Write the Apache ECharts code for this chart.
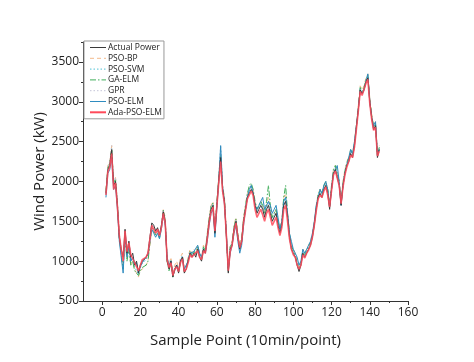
<!DOCTYPE html>
<html>
<head>
<meta charset="utf-8">
<script src="https://cdn.jsdelivr.net/npm/echarts@6/dist/echarts.min.js"></script>
<style>html,body{margin:0;padding:0;background:#fff}#c{width:474px;height:362px}</style>
</head>
<body>
<div id="c"></div>
<script>
var startPoint = 2;
var xTickLabels = [0, 20, 40, 60, 80, 100, 120, 140, 160];
var xMinorTicks = [10, 30, 50, 70, 90, 110, 130, 150];
var yTickLabels = [500, 1000, 1500, 2000, 2500, 3000, 3500];
var yMinorTicks = [750, 1250, 1750, 2250, 2750, 3250, 3750];
var seriesNames = ['Actual Power', 'PSO-BP', 'PSO-SVM', 'GA-ELM', 'GPR', 'PSO-ELM', 'Ada-PSO-ELM'];

var actualPower = [
1850,2150,2200,2400,1950,2000,1700,1300,1150,1050,
1400,1100,1250,1050,1100,950,1000,850,950,1000,
1000,1050,1100,1300,1480,1450,1380,1420,1330,1450,
1620,1500,1000,900,1000,800,900,950,850,1000,
1050,850,900,1000,1100,1050,1100,1050,1150,1050,
1000,1150,1100,1300,1500,1650,1700,1350,1700,2000,
2300,1900,1750,1300,850,1150,1200,1400,1500,1300,
1150,1250,1500,1650,1800,1850,1900,1850,1700,1600,
1650,1700,1650,1550,1650,1700,1600,1500,1550,1600,
1450,1350,1450,1700,1750,1550,1300,1150,1100,1050,
950,870,950,1100,1050,1100,1150,1200,1300,1450,
1650,1800,1850,1800,1900,1950,1850,1650,1900,2100,
2150,2150,1950,1700,1950,2100,2200,2250,2350,2300,
2450,2450,2900,3150,3100,3150,3250,3300,3000,2800,
2650,2700,2300,2400];

var psoBP = [
1900,2200,2250,2450,2000,2050,1750,1350,1100,950,
1300,1050,1150,950,1000,900,880,800,880,900,
920,950,1000,1200,1400,1400,1350,1380,1300,1400,
1650,1550,1050,950,1050,850,950,1000,900,1050,
1100,900,950,1050,1150,1100,1150,1100,1200,1100,
1050,1200,1150,1350,1550,1700,1750,1400,1750,2050,
2350,1950,1800,1350,900,1200,1250,1450,1550,1350,
1200,1300,1550,1700,1850,1900,1950,1900,1750,1650,
1700,1750,1700,1600,1700,1800,1650,1550,1600,1650,
1500,1400,1500,1800,1850,1600,1350,1200,1150,1100,
1000,920,1000,1150,1100,1150,1200,1250,1350,1500,
1700,1850,1900,1850,1950,2000,1900,1700,1950,2150,
2200,2200,2000,1750,2000,2150,2250,2300,2400,2350,
2500,2500,2950,3200,3150,3200,3300,3350,3050,2850,
2700,2750,2350,2450];

var psoSVM = [
1850,2150,2200,2400,1950,2000,1700,1300,1100,900,
1350,1100,1200,1000,1050,930,950,830,920,970,
980,1020,1080,1280,1450,1420,1350,1400,1300,1430,
1620,1500,1030,920,1020,820,920,960,870,1020,
1070,880,930,1020,1120,1080,1130,1080,1180,1080,
1030,1170,1120,1320,1520,1680,1720,1380,1720,2050,
2400,1920,1770,1330,870,1170,1220,1420,1520,1320,
1170,1270,1520,1680,1820,1880,1950,1870,1720,1630,
1680,1730,1720,1600,1680,1750,1650,1530,1580,1630,
1480,1380,1480,1750,1800,1580,1330,1180,1120,1080,
980,900,980,1120,1080,1120,1170,1220,1330,1480,
1680,1830,1880,1830,1930,1980,1880,1680,1920,2120,
2180,2180,1980,1730,1980,2130,2230,2280,2380,2330,
2480,2480,2920,3170,3120,3170,3270,3330,3020,2820,
2680,2720,2330,2420];

var gaELM = [
1870,2170,2230,2420,1980,2030,1720,1280,1100,900,
1300,1000,1150,950,1000,880,900,820,880,920,
900,950,1000,1230,1420,1400,1330,1370,1290,1420,
1640,1520,1000,880,980,800,900,940,860,1000,
1050,870,920,1020,1120,1070,1130,1080,1180,1080,
1030,1180,1130,1330,1530,1690,1730,1370,1730,2030,
2330,1930,1780,1330,870,1180,1230,1430,1530,1330,
1180,1280,1530,1700,1850,1950,1980,1900,1750,1650,
1700,1750,1700,1600,1750,1950,1700,1550,1600,1650,
1500,1400,1500,1800,1950,1600,1350,1200,1130,1080,
980,900,980,1130,1080,1130,1180,1230,1330,1480,
1680,1830,1900,1850,1950,2000,1900,1700,1950,2150,
2200,2200,2000,1730,1980,2130,2230,2300,2400,2350,
2480,2480,2920,3180,3130,3180,3280,3330,3030,2830,
2690,2730,2340,2430];

var gpr = [
1880,2180,2250,2450,2000,2050,1750,1330,1150,1000,
1400,1100,1250,1050,1080,950,980,870,950,1000,
1000,1050,1100,1300,1470,1450,1370,1410,1320,1450,
1630,1510,1020,920,1010,820,910,960,870,1010,
1060,870,920,1010,1110,1060,1110,1070,1160,1060,
1020,1160,1110,1310,1510,1660,1710,1360,1710,2050,
2450,1950,1760,1320,870,1160,1210,1410,1510,1310,
1160,1260,1510,1660,1810,1870,1930,1860,1710,1610,
1660,1710,1670,1570,1660,1720,1620,1510,1560,1610,
1460,1360,1460,1720,1770,1560,1310,1160,1110,1060,
960,880,960,1110,1060,1110,1160,1210,1310,1460,
1660,1810,1860,1810,1910,1960,1860,1660,1910,2110,
2160,2160,1960,1710,1960,2110,2210,2260,2360,2310,
2460,2460,2910,3160,3110,3160,3260,3320,3010,2810,
2660,2710,2310,2410];

var psoELM = [
1800,2100,2150,2300,1900,1950,1650,1250,1050,850,
1350,1050,1200,1000,1050,950,980,850,930,980,
1000,1050,1080,1250,1400,1350,1300,1350,1280,1400,
1580,1450,1050,950,1000,830,880,950,880,1000,
1050,900,920,1000,1100,1080,1120,1100,1200,1100,
1050,1150,1100,1250,1450,1600,1650,1300,1650,2000,
2450,1950,1700,1350,900,1100,1200,1350,1450,1250,
1100,1200,1450,1650,1800,1900,1950,1850,1700,1650,
1700,1750,1800,1650,1700,1750,1700,1600,1650,1700,
1550,1400,1500,1750,1800,1600,1350,1250,1150,1150,
1050,950,1000,1150,1100,1150,1200,1250,1350,1500,
1700,1800,1900,1850,1950,2000,1900,1700,1900,2100,
2150,2200,2000,1700,1950,2100,2200,2300,2400,2350,
2500,2500,2900,3150,3100,3150,3250,3350,3000,2800,
2700,2750,2350,2400];

var adaPsoELM = [
1830,2120,2180,2350,1900,1980,1680,1320,1150,1000,
1380,1120,1230,1080,1100,980,1000,880,950,1020,
1000,1050,1100,1280,1450,1430,1350,1400,1320,1420,
1600,1480,1020,920,980,820,900,930,870,980,
1030,870,900,980,1080,1050,1080,1060,1130,1050,
1020,1130,1100,1280,1480,1620,1680,1380,1680,1980,
2250,1880,1720,1320,880,1120,1200,1380,1480,1300,
1170,1250,1480,1630,1780,1830,1880,1820,1650,1550,
1600,1650,1580,1500,1600,1650,1550,1450,1500,1550,
1420,1320,1420,1650,1700,1500,1280,1150,1080,1050,
950,900,950,1080,1040,1100,1140,1200,1300,1450,
1630,1780,1830,1800,1880,1930,1830,1680,1880,2080,
2130,2130,1950,1720,1930,2080,2180,2250,2330,2300,
2430,2450,2880,3130,3080,3100,3230,3280,2980,2780,
2640,2680,2320,2380];

function pairs(arr) {
  var out = [];
  for (var i = 0; i < arr.length; i++) out.push([startPoint + i, arr[i]]);
  return out;
}

var styles = [
  {color: '#3a3a3a', width: 1, type: 'solid'},
  {color: '#f3b98a', width: 1, type: [4, 3]},
  {color: '#4fc1d6', width: 1, type: [1.5, 2]},
  {color: '#3fae5a', width: 1, type: [6, 2, 1.5, 2]},
  {color: '#c4c4d8', width: 1, type: [1.5, 2]},
  {color: '#2f8cc0', width: 1, type: 'solid'},
  {color: '#ff4a5a', width: 1.6, type: 'solid'}
];
var dataSets = [actualPower, psoBP, psoSVM, gaELM, gpr, psoELM, adaPsoELM];
var order = [1, 2, 3, 4, 5, 0, 6];

var series = [];
order.forEach(function (k) {
  series.push({
    name: seriesNames[k],
    type: 'line',
    data: pairs(dataSets[k]),
    showSymbol: false,
    symbol: 'none',
    silent: true,
    animation: false,
    z: 2 + order.indexOf(k),
    itemStyle: {color: styles[k].color},
    lineStyle: {color: styles[k].color, width: styles[k].width, type: styles[k].type, opacity: k === 6 ? 0.85 : 1}
  });
});

var legendData = seriesNames.map(function (n, k) {
  return {
    name: n,
    itemStyle: {opacity: 0},
    lineStyle: {color: styles[k].color, width: k === 6 ? 2 : 1, type: styles[k].type, opacity: 1}
  };
});

var labelFont = {fontFamily: 'Open Sans', fontSize: 12, color: '#222'};
var chart = echarts.init(document.getElementById('c'), null, {renderer: 'canvas'});
chart.setOption({
  backgroundColor: '#fff',
  animation: false,
  grid: {left: 83, right: 66, top: 42, bottom: 61, containLabel: false},
  legend: {
    data: legendData,
    orient: 'vertical',
    left: 84, top: 41,
    padding: [2, 2, 2, 5],
    itemGap: 1.8,
    itemWidth: 16, itemHeight: 9,
    backgroundColor: '#fff',
    borderColor: '#999', borderWidth: 1,
    textStyle: {fontFamily: 'Open Sans', fontSize: 8.5, color: '#222', padding: [0, 0, 0, -3]}
  },
  xAxis: [{
    type: 'value', min: -10, max: 160, interval: 10,
    name: 'Sample Point (10min/point)', nameLocation: 'middle', nameGap: 32,
    nameMoveOverlap: false,
    nameTextStyle: {fontFamily: 'Open Sans', fontSize: 15, color: '#222'},
    axisLine: {show: true, onZero: false, lineStyle: {color: '#333', width: 1}},
    axisTick: {show: true, length: 4, lineStyle: {color: '#333'}, customValues: xTickLabels},
    axisLabel: Object.assign({margin: 6, customValues: xTickLabels, formatter: function (v) { return String(v); }}, labelFont),
    splitLine: {show: false}
  }, {
    type: 'value', min: -10, max: 160, interval: 10, position: 'bottom',
    axisLine: {show: false, onZero: false},
    axisTick: {show: true, length: 2, lineStyle: {color: '#333'}, customValues: xMinorTicks},
    axisLabel: {show: false},
    splitLine: {show: false}
  }],
  yAxis: [{
    type: 'value', min: 500, max: 3750, interval: 250,
    name: 'Wind Power (kW)', nameLocation: 'middle', nameGap: 36, nameRotate: 90,
    nameMoveOverlap: false,
    nameTextStyle: {fontFamily: 'Open Sans', fontSize: 15, color: '#222'},
    axisLine: {show: true, onZero: false, lineStyle: {color: '#333', width: 1}},
    axisTick: {show: true, length: 4, lineStyle: {color: '#333'}, customValues: yTickLabels},
    axisLabel: Object.assign({margin: 4, customValues: yTickLabels, formatter: function (v) { return String(v); }}, labelFont),
    splitLine: {show: false}
  }, {
    type: 'value', min: 500, max: 3750, interval: 250, position: 'left',
    axisLine: {show: false, onZero: false},
    axisTick: {show: true, length: 2, lineStyle: {color: '#333'}, customValues: yMinorTicks},
    axisLabel: {show: false},
    splitLine: {show: false}
  }],
  series: series
});
</script>
</body>
</html>
